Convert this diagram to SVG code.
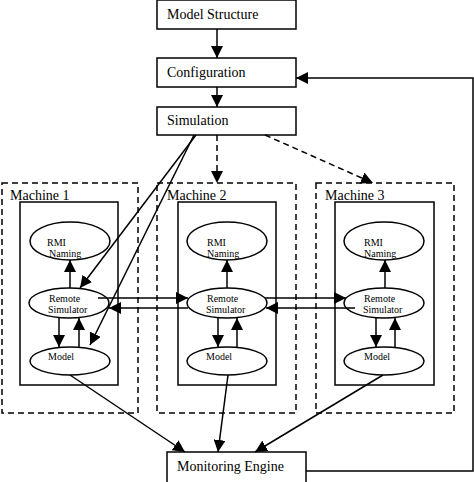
<svg xmlns="http://www.w3.org/2000/svg" width="474" height="482" viewBox="0 0 474 482">
<defs>
<marker id="ah" markerUnits="userSpaceOnUse" markerWidth="12" markerHeight="12" viewBox="0 0 12 12" refX="12" refY="6" orient="auto">
<path d="M0,0 L12,6 L0,12 Z" fill="#000"/>
</marker>
</defs>
<style>
.box{fill:#fff;stroke:#000;stroke-width:1.5}
.mach{fill:none;stroke:#000;stroke-width:1.5;stroke-dasharray:6 4}
.inner{fill:none;stroke:#000;stroke-width:1.5}
.ell{fill:#fff;stroke:#000;stroke-width:1.5}
.t{font-family:"Liberation Serif",serif;font-size:14px;fill:#000}
.s{font-family:"Liberation Serif",serif;font-size:10px;fill:#000}
.c{fill:none;stroke:#000;stroke-width:1.5}
.a{fill:none;stroke:#000;stroke-width:1.5;marker-end:url(#ah)}
.d{fill:none;stroke:#000;stroke-width:1.5;stroke-dasharray:6 4;marker-end:url(#ah)}
</style>
<rect width="474" height="482" fill="#fff"/>
<g id="model-structure"><rect class="box" x="157" y="0" width="139" height="29"/><text class="t" x="167" y="19">Model Structure</text></g>
<g id="configuration"><rect class="box" x="157" y="58" width="139" height="29"/><text class="t" x="167" y="77">Configuration</text></g>
<g id="simulation"><rect class="box" x="157" y="107" width="139" height="28"/><text class="t" x="167" y="125">Simulation</text></g>
<g id="machine1">
<rect class="mach" x="2" y="183" width="136" height="230"/>
<text class="t" x="10" y="200">Machine 1</text>
<rect class="inner" x="20" y="202" width="98" height="183"/>
<g id="m1-rmi"><ellipse class="ell" cx="70" cy="241" rx="40" ry="19"/><text class="s" x="47" y="246">RMI</text><text class="s" x="49" y="257">Naming</text></g>
<g id="m1-sim"><ellipse class="ell" cx="69" cy="303" rx="40" ry="15"/><text class="s" x="49" y="302">Remote</text><text class="s" x="48" y="313">Simulator</text></g>
<g id="m1-model"><ellipse class="ell" cx="70" cy="361" rx="40" ry="14"/><text class="s" x="48" y="360">Model</text></g>
</g>
<g id="machine2">
<rect class="mach" x="157" y="183" width="139" height="230"/>
<text class="t" x="167" y="200">Machine 2</text>
<rect class="inner" x="178" y="202" width="98" height="183"/>
<g id="m2-rmi"><ellipse class="ell" cx="227" cy="241" rx="40" ry="19"/><text class="s" x="207" y="246">RMI</text><text class="s" x="207" y="257">Naming</text></g>
<g id="m2-sim"><ellipse class="ell" cx="227" cy="303" rx="40" ry="15"/><text class="s" x="207" y="302">Remote</text><text class="s" x="206" y="313">Simulator</text></g>
<g id="m2-model"><ellipse class="ell" cx="227" cy="361" rx="40" ry="14"/><text class="s" x="206" y="360">Model</text></g>
</g>
<g id="machine3">
<rect class="mach" x="316" y="183" width="138" height="230"/>
<text class="t" x="325" y="200">Machine 3</text>
<rect class="inner" x="335" y="202" width="99" height="183"/>
<g id="m3-rmi"><ellipse class="ell" cx="384" cy="241" rx="40" ry="19"/><text class="s" x="364" y="246">RMI</text><text class="s" x="364" y="257">Naming</text></g>
<g id="m3-sim"><ellipse class="ell" cx="384" cy="303" rx="40" ry="15"/><text class="s" x="364" y="302">Remote</text><text class="s" x="363" y="313">Simulator</text></g>
<g id="m3-model"><ellipse class="ell" cx="384" cy="361" rx="40" ry="14"/><text class="s" x="364" y="360">Model</text></g>
</g>
<g id="monitoring-engine"><rect class="box" x="167" y="452" width="139" height="32"/><text class="t" x="177" y="471">Monitoring Engine</text></g>
<g id="connectors">
<line class="a" x1="217" y1="29" x2="217" y2="58"/>
<line class="a" x1="217" y1="87" x2="217" y2="107"/>
<polyline class="a" points="306,471 473,471 473,78 296,78"/>
<line class="d" x1="217" y1="135" x2="217" y2="183"/>
<line class="d" x1="265" y1="135" x2="373" y2="183"/>
<line class="a" x1="196" y1="135" x2="80" y2="288"/>
<line class="a" x1="194" y1="135" x2="90" y2="345"/>
<line class="a" x1="70" y1="288" x2="70" y2="260"/>
<line class="a" x1="59" y1="318" x2="59" y2="347"/>
<line class="a" x1="79" y1="347" x2="79" y2="318"/>
<line class="a" x1="227" y1="288" x2="227" y2="260"/>
<line class="a" x1="218" y1="318" x2="218" y2="347"/>
<line class="a" x1="237" y1="347" x2="237" y2="318"/>
<line class="a" x1="385" y1="288" x2="385" y2="260"/>
<line class="a" x1="376" y1="318" x2="376" y2="347"/>
<line class="a" x1="395" y1="347" x2="395" y2="318"/>
<line class="a" x1="98" y1="298" x2="188" y2="298"/>
<line class="a" x1="188" y1="308" x2="109" y2="308"/>
<line class="a" x1="265" y1="298" x2="346" y2="298"/>
<line class="a" x1="355" y1="308" x2="266" y2="308"/>
<line class="a" x1="70" y1="375" x2="185" y2="452"/>
<line class="a" x1="228" y1="375" x2="218" y2="452"/>
<line class="a" x1="383" y1="375" x2="255" y2="452"/>
</g>
</svg>
